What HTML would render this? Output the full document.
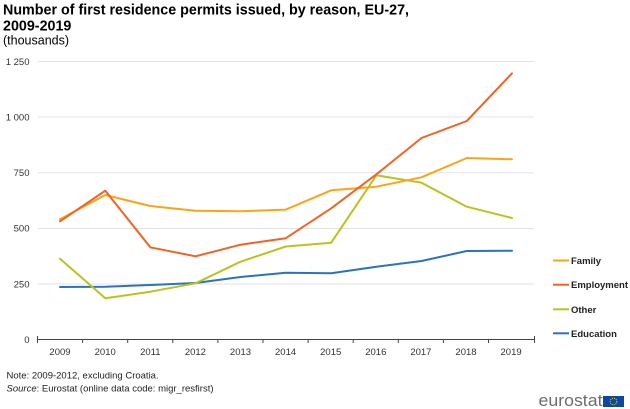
<!DOCTYPE html>
<html>
<head>
<meta charset="utf-8">
<style>
  html, body { margin:0; padding:0; background:#fff; }
  body { width:630px; height:409px; overflow:hidden; }
  svg { display:block; font-family:"Liberation Sans", Arial, sans-serif; }
</style>
</head>
<body>
<svg width="630" height="409" viewBox="0 0 630 409" xmlns="http://www.w3.org/2000/svg">
  <!-- Title -->
  <text x="3" y="14.5" font-size="14.3" font-weight="bold" fill="#000">Number of first residence permits issued, by reason, EU-27,</text>
  <text x="3" y="30.5" font-size="14.3" font-weight="bold" fill="#000">2009-2019</text>
  <text x="3" y="44.5" font-size="12.5" fill="#000">(thousands)</text>

  <!-- gridlines -->
  <g stroke="#e3e3e3" stroke-width="1">
    <line x1="38" y1="61.5" x2="534" y2="61.5"/>
    <line x1="38" y1="117" x2="534" y2="117"/>
    <line x1="38" y1="172.8" x2="534" y2="172.8"/>
    <line x1="38" y1="228.5" x2="534" y2="228.5"/>
    <line x1="38" y1="284" x2="534" y2="284"/>
  </g>

  <!-- y labels -->
  <g font-size="9.5" fill="#333" text-anchor="end">
    <text x="29.5" y="65">1 250</text>
    <text x="29.5" y="120.5">1 000</text>
    <text x="29.5" y="176">750</text>
    <text x="29.5" y="231.5">500</text>
    <text x="29.5" y="287.5">250</text>
    <text x="29.5" y="343">0</text>
  </g>

  <!-- x axis -->
  <g stroke="#444" stroke-width="1">
    <line x1="37.5" y1="339.5" x2="534.5" y2="339.5"/>
    <line x1="37.5" y1="336" x2="37.5" y2="343"/>
    <line x1="82.6" y1="339.5" x2="82.6" y2="343"/>
    <line x1="127.7" y1="339.5" x2="127.7" y2="343"/>
    <line x1="172.8" y1="339.5" x2="172.8" y2="343"/>
    <line x1="217.9" y1="339.5" x2="217.9" y2="343"/>
    <line x1="263" y1="339.5" x2="263" y2="343"/>
    <line x1="308.1" y1="339.5" x2="308.1" y2="343"/>
    <line x1="353.2" y1="339.5" x2="353.2" y2="343"/>
    <line x1="398.3" y1="339.5" x2="398.3" y2="343"/>
    <line x1="443.4" y1="339.5" x2="443.4" y2="343"/>
    <line x1="488.5" y1="339.5" x2="488.5" y2="343"/>
    <line x1="534.5" y1="336" x2="534.5" y2="343"/>
  </g>
  <g font-size="9.5" fill="#333" text-anchor="middle">
    <text x="60" y="355">2009</text>
    <text x="105.2" y="355">2010</text>
    <text x="150.3" y="355">2011</text>
    <text x="195.4" y="355">2012</text>
    <text x="240.5" y="355">2013</text>
    <text x="285.6" y="355">2014</text>
    <text x="330.7" y="355">2015</text>
    <text x="375.8" y="355">2016</text>
    <text x="420.9" y="355">2017</text>
    <text x="466" y="355">2018</text>
    <text x="511.1" y="355">2019</text>
  </g>

  <!-- series -->
  <g fill="none" stroke-width="2" stroke-linejoin="round" stroke-linecap="round">
    <!-- Education -->
    <polyline stroke="#2C72BE" points="60,287 105.3,286.7 150.3,285 195.5,283 240.6,277 285.8,272.7 331.2,273.3 376.4,266.7 421.5,261 466.8,251 512,250.7"/>
    <!-- Other -->
    <polyline stroke="#B9C31E" points="60,258.7 105.3,298.3 150.3,291.7 195.5,283.3 240.6,261.7 285.8,246.5 331.2,242.7 376.4,175.3 421.5,182.7 466.8,206.7 512,218"/>
    <!-- Family -->
    <polyline stroke="#FAA519" points="60,219.3 105.3,195 150.3,206 195.5,210.7 240.6,211.3 285.8,209.6 331.2,190.3 376.4,186.7 421.5,177.3 466.8,158 512,159.3"/>
    <!-- Employment -->
    <polyline stroke="#F06423" points="60,221.3 105.3,190.7 150.3,247.3 195.5,256.3 240.6,244.7 285.8,238.2 331.2,208.3 376.4,174.3 421.5,138 466.8,121 512,73.3"/>
  </g>

  <!-- legend -->
  <g stroke-width="2">
    <line x1="553" y1="260.5" x2="569" y2="260.5" stroke="#FAA519"/>
    <line x1="553" y1="284.7" x2="569" y2="284.7" stroke="#F06423"/>
    <line x1="553" y1="309.3" x2="569" y2="309.3" stroke="#B9C31E"/>
    <line x1="553" y1="333.3" x2="569" y2="333.3" stroke="#2C72BE"/>
  </g>
  <g font-size="9.5" font-weight="bold" fill="#222">
    <text x="571" y="264">Family</text>
    <text x="571" y="288.2">Employment</text>
    <text x="571" y="312.8">Other</text>
    <text x="571" y="336.8">Education</text>
  </g>

  <!-- footer -->
  <text x="6.5" y="378.5" font-size="9.5" fill="#222">Note: 2009-2012,  excluding Croatia.</text>
  <text x="6.5" y="391.5" font-size="9.5" fill="#222"><tspan font-style="italic">Source</tspan>: Eurostat (online data code: migr_resfirst)</text>

  <!-- eurostat logo -->
  <text x="538.5" y="406" font-size="16.5" fill="#6d6d6d" textLength="64" lengthAdjust="spacingAndGlyphs">eurostat</text>
  <rect x="603" y="396" width="21" height="11" fill="#0E47A1"/>
  <circle cx="613.5" cy="401.5" r="3.3" fill="none" stroke="#FFD200" stroke-width="1" stroke-dasharray="1,1"/>
</svg>
</body>
</html>
